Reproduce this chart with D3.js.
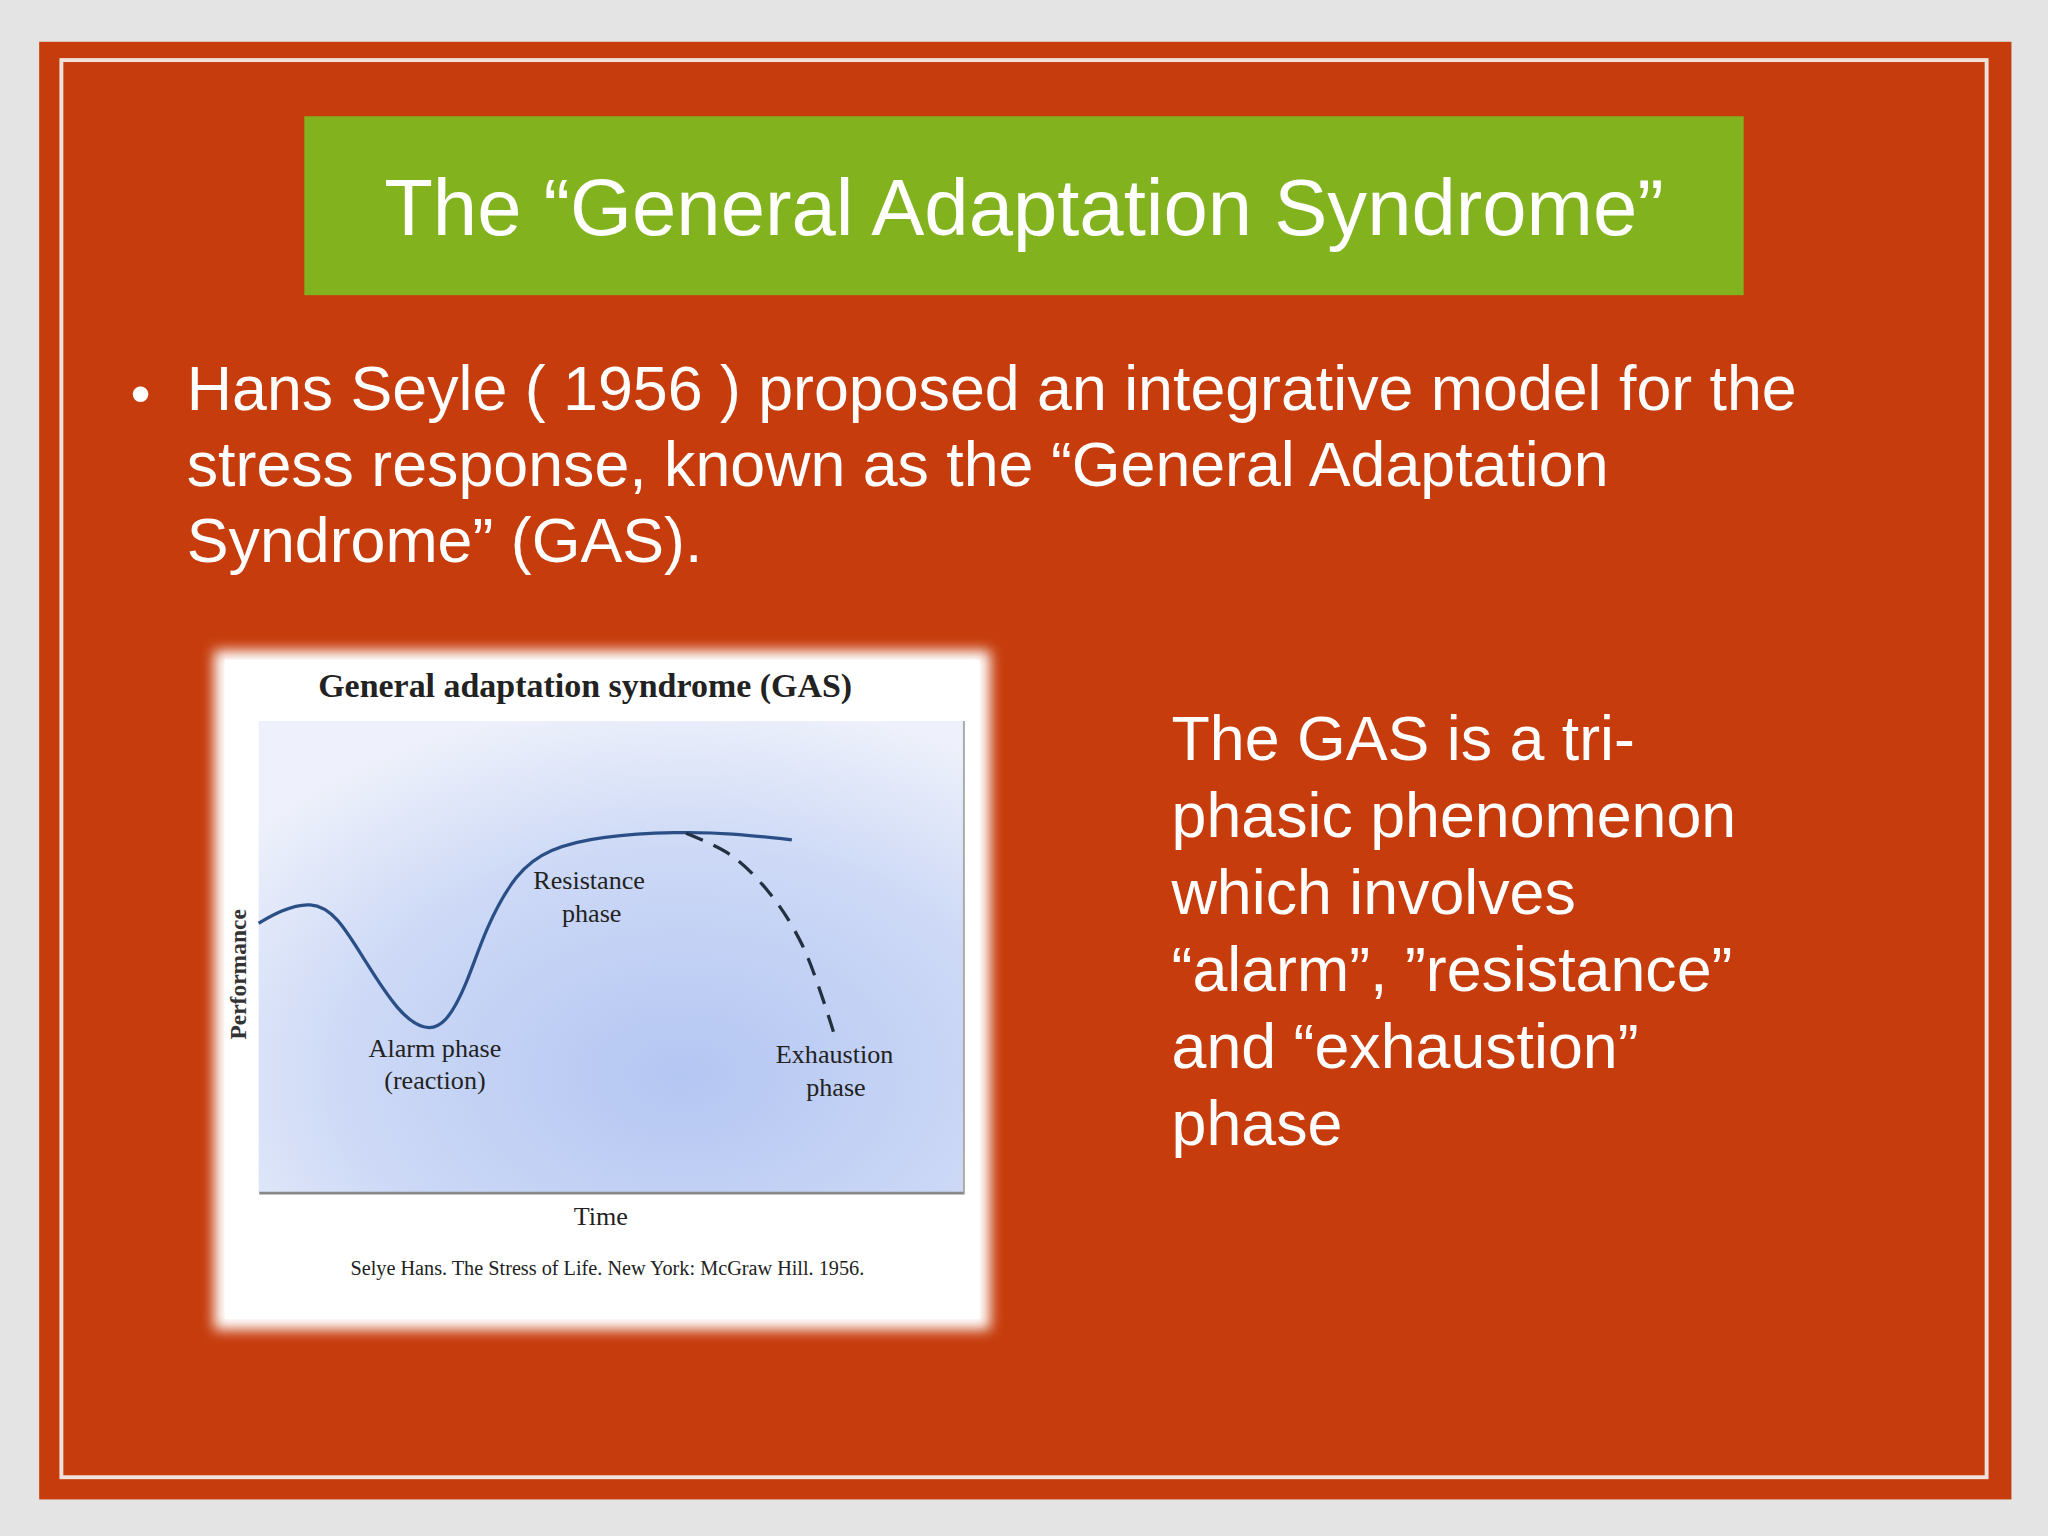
<!DOCTYPE html><html><head><meta charset="utf-8"><script src="https://cdn.jsdelivr.net/npm/d3@7"></script>
<style>body{margin:0;background:#e6e6e6}</style></head><body><svg id="c" width="2048" height="1536" viewBox="0 0 1568 1176"></svg>
<script>
const time=[0,3.1,7.4,11.1,15.2,19.8,23.5,26.5,29.5,32.2,36.5,41.1,48.5,59.6,67.0,75.6];
const performance=[57.1,59.8,61.8,59.0,48.8,38.2,34.3,35.5,44.0,56.2,67.9,72.9,75.6,76.5,76.2,74.8];
const exTime=[60.6,67.0,72.6,77.2,81.5];
const exPerf=[76.2,71.5,63.2,52.1,34.1];
const bullet=["Hans Seyle ( 1956 ) proposed an integrative model for the","stress response, known as the “General Adaptation","Syndrome” (GAS)."];
const side=["The GAS is a tri-","phasic phenomenon","which involves","“alarm”, ”resistance”","and “exhaustion”","phase"];
const svg=d3.select("#c");
const defs=svg.append("defs");
const f=defs.append("filter").attr("id","blur").attr("x","-10%").attr("y","-10%").attr("width","120%").attr("height","120%");
f.append("feGaussianBlur").attr("stdDeviation",5);
const g=defs.append("radialGradient").attr("id","bg").attr("cx","0.6").attr("cy","0.75").attr("r","0.8");
g.append("stop").attr("offset","0").attr("stop-color","#b4c6f2");
g.append("stop").attr("offset","0.6").attr("stop-color","#cdd9f6");
g.append("stop").attr("offset","1").attr("stop-color","#eef1fb");
svg.append("rect").attr("width",1568).attr("height",1176).attr("fill","#e4e4e4");
svg.append("rect").attr("x",30).attr("y",32).attr("width",1510).attr("height",1116).attr("fill","#c63c0c");
svg.append("rect").attr("x",47).attr("y",46).attr("width",1474).attr("height",1085).attr("fill","none").attr("stroke","#f0e2da").attr("stroke-width",3);
svg.append("rect").attr("x",233).attr("y",89).attr("width",1102).attr("height",137).attr("fill","#82b31f");
svg.append("text").attr("x",784).attr("y",180).attr("text-anchor","middle").attr("fill","#fff").attr("font-family","Liberation Sans, Arial").attr("font-size",61).text("The “General Adaptation Syndrome”");
svg.append("text").attr("x",100).attr("y",316).attr("fill","#fff").attr("font-family","Liberation Sans").attr("font-size",44).text("•");
bullet.forEach((t,i)=>svg.append("text").attr("x",143).attr("y",314+i*58).attr("fill","#fff").attr("font-family","Liberation Sans").attr("font-size",48).text(t));
side.forEach((t,i)=>svg.append("text").attr("x",897).attr("y",582+i*59).attr("fill","#fff").attr("font-family","Liberation Sans").attr("font-size",48).text(t));
svg.append("rect").attr("x",164).attr("y",498).attr("width",594).attr("height",520).attr("fill","#fff").attr("filter","url(#blur)");
svg.append("rect").attr("x",172).attr("y",505).attr("width",578).attr("height",505).attr("fill","#fff");
const X=d3.scaleLinear().domain([0,100]).range([198,738]);
const Y=d3.scaleLinear().domain([0,100]).range([913,552]);
svg.append("rect").attr("x",198).attr("y",552).attr("width",540).attr("height",361).attr("fill","url(#bg)");
svg.append("g").attr("transform","translate(0,913)").call(d3.axisBottom(X).ticks(0).tickSize(0)).select(".domain").attr("stroke","#888").attr("stroke-width",2);
svg.append("line").attr("x1",738).attr("x2",738).attr("y1",552).attr("y2",913).attr("stroke","#aaa").attr("stroke-width",1.5);
const line=d3.line().x(d=>X(d[0])).y(d=>Y(d[1])).curve(d3.curveBasis);
svg.append("path").attr("d",line(d3.zip(time,performance))).attr("fill","none").attr("stroke","#2a4f86").attr("stroke-width",2.5);
svg.append("path").attr("d",d3.line().x(d=>X(d[0])).y(d=>Y(d[1])).curve(d3.curveCatmullRom)(d3.zip(exTime,exPerf))).attr("fill","none").attr("stroke","#22303f").attr("stroke-width",2.5).attr("stroke-dasharray","14,9");
const serif="Liberation Serif, Times New Roman";
const T=(x,y,s,t,w,a)=>svg.append("text").attr("x",x).attr("y",y).attr("font-family",serif).attr("font-size",s).attr("fill","#222").attr("text-anchor",a||"middle").attr("font-weight",w||"normal").text(t);
T(448,534,26,"General adaptation syndrome (GAS)","bold");
T(333,809,20,"Alarm phase");T(333,834,20,"(reaction)");
T(451,681,20,"Resistance");T(453,706,20,"phase");
T(639,814,20,"Exhaustion");T(640,839,20,"phase");
T(460,938,20,"Time");
T(465,976,15.5,"Selye Hans. The Stress of Life. New York: McGraw Hill. 1956.");
svg.append("text").attr("transform","translate(188,746) rotate(-90)").attr("text-anchor","middle").attr("font-family",serif).attr("font-size",18).attr("font-weight","bold").attr("fill","#333").text("Performance");
</script></body></html>
